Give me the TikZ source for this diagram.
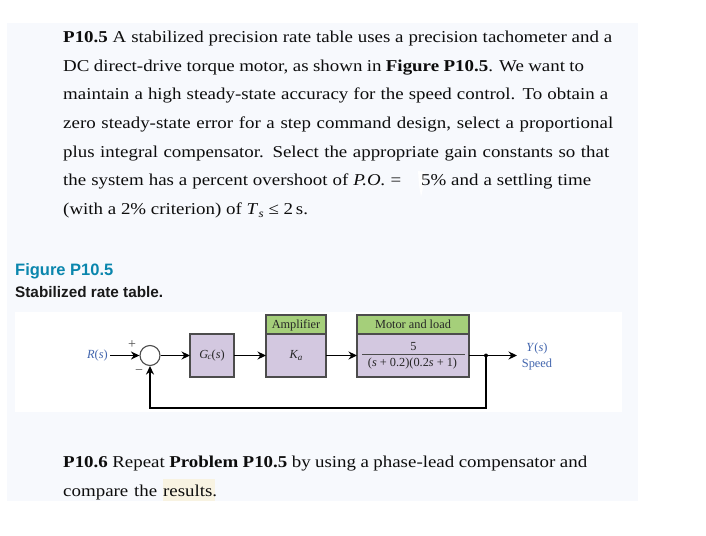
\documentclass[tikz,border=0pt]{standalone}
\usepackage{fontspec}
\setmainfont{Liberation Serif}
\setsansfont{Liberation Sans}
\newfontfamily\bookfont[FakeStretch=1.14]{Liberation Serif}
\usetikzlibrary{arrows.meta,positioning}
\definecolor{panelbg}{HTML}{F7F9FD}
\definecolor{headgreen}{HTML}{A5CF7A}
\definecolor{bodypurple}{HTML}{D3C8E0}
\definecolor{signalblue}{HTML}{4366AE}
\definecolor{figteal}{HTML}{0A86AD}
\definecolor{marksand}{HTML}{F8F3E2}
\newcommand{\fitline}[2]{\makebox[#1pt][s]{#2}}
\begin{document}
\begin{tikzpicture}[
		x=1pt,y=-1pt,
		tline/.style={anchor=base west,inner sep=0pt,font=\bookfont\fontsize{16.6}{18}\selectfont,text=black!95},
		caption/.style={anchor=base west,inner sep=0pt,font=\sffamily\bfseries\fontsize{16.5}{18}\selectfont},
		block/.style={draw=black!70,line width=1.2pt,fill=bodypurple,inner sep=0pt,outer sep=0pt,font=\fontsize{12.3}{14}\selectfont,text=black!85},
		headblock/.style={block,fill=headgreen,text height=9.5pt,text depth=1.5pt},
		signal/.style={inner sep=0pt,font=\fontsize{12.4}{14}\selectfont,text=signalblue},
		wire/.style={line width=1.5pt,-{Stealth[length=8.5pt,width=8pt]}},
		tag/.style={inner sep=0pt,font=\fontsize{14}{15}\selectfont,text=black!70},
	]
	\useasboundingbox (0,0) rectangle (706,535);
	\fill[white] (0,0) rectangle (706,535);
	\fill[panelbg] (7,23) rectangle (638,501);
	\fill[white] (15,312) rectangle (622,412);
	\fill[marksand] (163,479) rectangle (215,501);
	\fill[white] (418,171) -- (425,172) -- (424,184) -- (421,197) -- (419,185) -- cycle;

	\node[tline] (line1) at (63,42) {\fitline{549}{\textbf{P10.5} A stabilized precision rate table uses a precision tachometer and a}};
	\node[tline] (line2) at (63,71) {\fitline{521}{DC direct-drive torque motor, as shown in \textbf{Figure P10.5}. We want to}};
	\node[tline] (line3) at (63,99) {\fitline{545}{maintain a high steady-state accuracy for the speed control. To obtain a}};
	\node[tline] (line4) at (63,128) {\fitline{550}{zero steady-state error for a step command design, select a proportional}};
	\node[tline] (line5) at (63,157) {\fitline{546}{plus integral compensator. Select the appropriate gain constants so that}};
	\node[tline] (line6) at (63,185) {\fitline{528}{the system has a percent overshoot of \textit{P.O.} = \hspace{.9em}5\% and a settling time}};
	\node[tline] (line7) at (63,214) {(with a 2\% criterion) of \textit{T}\kern.5pt\raisebox{-3pt}{\fontsize{11.5}{12}\selectfont\textit{s}} ≤ 2\,s.};

	\node[caption,text=figteal] (figlabel) at (15,275) {Figure P10.5};
	\node[caption,text=black!90,font=\sffamily\bfseries\fontsize{15.3}{18}\selectfont] (figtitle) at (15,297) {Stabilized rate table.};

	\node[tline] (line8) at (63,467) {\fitline{524}{\textbf{P10.6} Repeat \textbf{Problem P10.5} by using a phase-lead compensator and}};
	\node[tline] (line9) at (63,496) {\fitline{154}{compare the results.}};

	% blocks
	\node[draw=black!70,line width=1.1pt,fill=white,circle,minimum size=20pt,inner sep=0pt] (sum) at (150,355.5) {};
	\node[block,minimum width=44pt,minimum height=43pt] (comp) at (212,355.5) {\textit{G\kern-.5pt\raisebox{-1.5pt}{\fontsize{9}{10}\selectfont c}}(\textit{s})};
	\node[block,minimum width=60pt,minimum height=43pt] (amp) at (296,355.5) {\textit{K\raisebox{-1.5pt}{\fontsize{9}{10}\selectfont a}}};
	\node[headblock,minimum width=60pt,minimum height=19pt,above=0pt of amp] (amphead) {Amplifier};
	\node[block,minimum width=112pt,minimum height=43pt] (motor) at (413,355.5) {};
	\node[headblock,minimum width=112pt,minimum height=19pt,above=0pt of motor] (motorhead) {Motor and load};
	\node[inner sep=0pt,font=\fontsize{12.3}{14}\selectfont,text=black!85] (num) at (413.5,346.5) {5};
	\node[inner sep=0pt,font=\fontsize{12.3}{14}\selectfont,text=black!85] (den) at (412.5,363.5) {(\textit{s} + 0.2)(0.2\textit{s} + 1)};
	\coordinate (fracl) at (362,354);
	\coordinate (fracr) at (465,354);
	\draw[black!70,line width=.7pt] (fracl) -- (fracr);

	% signals
	\node[signal,anchor=east] (rin) at (108,356) {\textit{R}(\textit{s})};
	\node[signal] (yout) at (537,348.5) {\textit{Y}(\textit{s})};
	\node[signal,below=4.5pt of yout] (speed) {Speed};
	\node[tag] (plus) at (132,345) {+};
	\node[tag] (minus) at (139,372) {−};
	\coordinate (junc) at (486,355.5);
	\coordinate (yend) at (517,355.5);
	\coordinate (fbr) at (486,408);
	\coordinate (fbl) at (150,408);
	\coordinate (rstart) at (110,355.5);

	\draw[wire] (rstart) -- (sum.west);
	\draw[wire] (sum.east) -- (comp.west);
	\draw[wire] (comp.east) -- (amp.west);
	\draw[wire] (amp.east) -- (motor.west);
	\draw[wire] (motor.east) -- (yend);
	\draw[wire] (junc) -- (fbr) -- (fbl) -- (sum.south);
	\fill (junc) circle (2pt);
\end{tikzpicture}
\end{document}
